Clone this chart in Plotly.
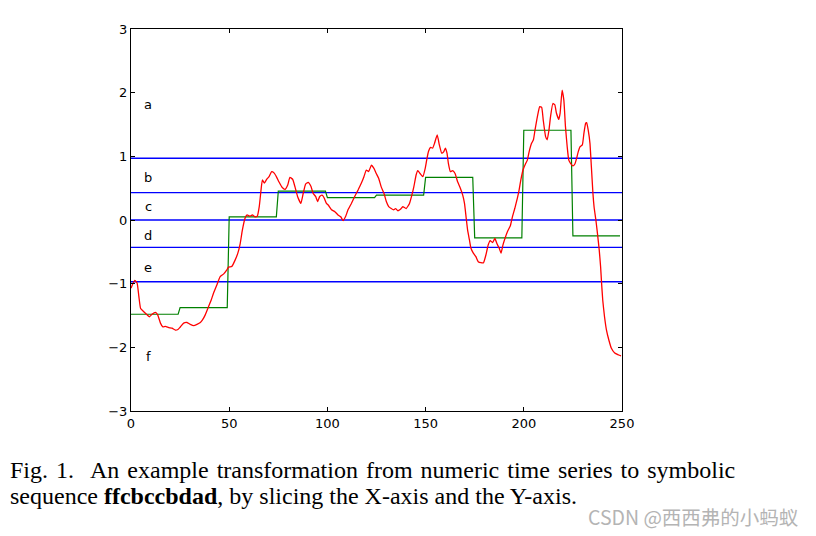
import plotly.graph_objects as go

# ---- data ----
series_x = [0, 1.9, 3.1, 4, 4.9, 6.5, 8.2, 9.4, 10.7, 12.4, 13.6, 15, 16.2, 17.5, 19.2, 20.9, 22.6, 23.9,
            25.1, 26.8, 28.5, 30.2, 31.9, 33.6, 35.3, 36.4, 37.8, 39.5, 40.8, 42, 43.7, 45.4, 47.1, 48.8,
            49.6, 51.3, 53, 54.4, 55.6, 56.7, 58.1, 59.1, 60.6, 61.8, 63.2, 64.3, 65.3, 66.2, 66.9, 67.9,
            69.1, 70.3, 71.6, 72.8, 74.2, 75.3, 77, 78.4, 79.8, 80.9, 82.3, 83.5, 84.8, 86.5, 87.7, 88.9,
            90.2, 91.6, 92.7, 94, 95, 96.1, 97.3, 98.3, 99.5, 100.4, 102.1, 103.8, 105.4, 106.8, 108,
            109.2, 110.5, 112.2, 113.9, 115.6, 117.3, 118.6, 119.8, 121, 122.4, 123.7, 124.9, 126.1,
            127.4, 128.8, 130, 131.2, 132.5, 133.7, 134.7, 135.9, 137.2, 138.4, 140.1, 141.8, 143, 144,
            145.2, 146, 147.2, 148.6, 149.8, 150.6, 151.5, 152.5, 153.6, 154.5, 155.9, 157, 158.2, 159.2,
            160.1, 160.9, 161.6, 162.6, 163.8, 165, 166.3, 167.7, 168.9, 169.8, 170.6, 171.4, 172.3,
            173.1, 174.3, 175.6, 176.8, 178.2, 179.5, 180.7, 181.9, 182.9, 184.1, 185.3, 186.3, 187.5,
            188.4, 189.4, 190.4, 191.7, 193.1, 194.2, 195.4, 196.7, 197.6, 198.5, 199.6, 201, 201.8,
            202.7, 203.9, 204.9, 205.7, 206.9, 208.1, 209.1, 209.9, 211.1, 211.9, 212.8, 213.6, 214.8,
            215.8, 216.6, 217.8, 218.5, 219.5, 220.4, 221.2, 222.1, 222.9, 223.8, 225, 226, 226.9, 227.7,
            228.6, 229.8, 230.6, 231.5, 232, 232.8, 233.7, 234.4, 235.2, 235.8, 236.7, 237.5, 238.4,
            239.1, 239.6, 240.2, 241.1, 242.1, 243.3, 244.6, 246.3, 248.3, 249.5]
series_y = [-1.07, -0.95, -0.99, -1.20, -1.39, -1.44, -1.49, -1.52, -1.48, -1.45, -1.49, -1.62, -1.68, -1.67,
            -1.69, -1.70, -1.73, -1.72, -1.68, -1.62, -1.61, -1.64, -1.66, -1.64, -1.61, -1.57, -1.49, -1.36,
            -1.26, -1.15, -1.02, -0.89, -0.85, -0.785, -0.74, -0.73, -0.63, -0.52, -0.37, -0.16, 0.03, 0.08,
            0.06, 0.08, 0.05, 0.06, 0.21, 0.47, 0.63, 0.58, 0.64, 0.68, 0.76, 0.74, 0.67, 0.60, 0.51, 0.48,
            0.55, 0.67, 0.64, 0.52, 0.37, 0.26, 0.42, 0.565, 0.59, 0.53, 0.42, 0.37, 0.29, 0.37, 0.39, 0.35,
            0.26, 0.235, 0.16, 0.13, 0.08, 0.05, -0.01, 0.05, 0.16, 0.26, 0.37, 0.47, 0.58, 0.68, 0.785,
            0.76, 0.86, 0.81, 0.73, 0.655, 0.52, 0.42, 0.29, 0.21, 0.18, 0.16, 0.18, 0.145, 0.17, 0.21,
            0.18, 0.26, 0.39, 0.52, 0.71, 0.775, 0.73, 0.68, 0.81, 0.95, 1.08, 1.14, 1.13, 1.20, 1.335,
            1.18, 1.05, 1.07, 1.13, 1.05, 0.89, 0.76, 0.775, 0.73, 0.60, 0.50, 0.39, 0.26, 0.05, -0.16,
            -0.31, -0.445, -0.52, -0.575, -0.655, -0.67, -0.67, -0.55, -0.39, -0.325, -0.355, -0.29,
            -0.37, -0.445, -0.52, -0.39, -0.29, -0.18, -0.095, 0.05, 0.18, 0.34, 0.47, 0.63, 0.785, 0.89,
            0.94, 1.07, 1.20, 1.26, 1.41, 1.62, 1.78, 1.77, 1.57, 1.31, 1.26, 1.41, 1.62, 1.83, 1.81, 1.68,
            1.58, 1.68, 2.04, 1.88, 1.47, 1.15, 0.94, 0.89, 0.85, 0.88, 0.97, 1.07, 1.15, 1.18, 1.36, 1.52,
            1.53, 1.41, 1.20, 0.84, 0.42, 0.2, 0.0, -0.21, -0.47, -0.73, -0.99, -1.26, -1.52, -1.73,
            -1.885, -2.015, -2.09, -2.12, -2.135]

segment_starts = [0, 25, 50, 75, 100, 125, 150, 175, 200, 225]
segment_means = [-1.48, -1.376, 0.05, 0.455, 0.35, 0.39, 0.67, -0.28, 1.41, -0.25]
segment_length = 25

breakpoints = [-0.97, -0.43, 0.0, 0.43, 0.97]

symbols = ["a", "b", "c", "d", "e", "f"]
symbol_y = [1.82, 0.67, 0.21, -0.24, -0.74, -2.14]
symbol_x = 8.8

x_ticks = [0, 50, 100, 150, 200, 250]
y_ticks = [-3, -2, -1, 0, 1, 2, 3]

caption_1_words = ["Fig.", "1.", "", "An", "example", "transformation", "from", "numeric", "time",
                   "series", "to", "symbolic"]
caption_2 = "sequence <b>ffcbccbdad</b>, by slicing the X-axis and the Y-axis."
watermark = "CSDN @西西弗的小蚂蚁"

# ---- figure ----
# the page body has an 8px margin, so every target pixel is shifted by -8
OFF = 8
W, H = 816 - OFF, 536 - OFF
pl, pr = 130.5 - OFF, 622.5 - OFF
plot_top, plot_bottom = 29 - OFF, 411 - OFF

fig = go.Figure()

for b in breakpoints:
    fig.add_trace(go.Scatter(x=[0, 250], y=[b, b], mode="lines",
                             line=dict(color="#0000ff", width=1.3), hoverinfo="skip"))

# PAA step: each segment value held over its 25 points
gx, gy = [], []
for s, v in zip(segment_starts, segment_means):
    gx += [s, s + segment_length - 1]
    gy += [v, v]
fig.add_trace(go.Scatter(x=gx, y=gy, mode="lines", line=dict(color="#008000", width=1.2)))

fig.add_trace(go.Scatter(x=series_x, y=series_y, mode="lines",
                         line=dict(color="#ff0000", width=1.3, shape="spline", smoothing=0.4)))

for s, yv in zip(symbols, symbol_y):
    fig.add_annotation(x=symbol_x, y=yv, text=s, showarrow=False, xanchor="center", yanchor="middle",
                       font=dict(family="DejaVu Sans", size=13, color="black"))

ph = plot_bottom - plot_top
pw = pr - pl


def paper_y(py):
    return (plot_bottom - (py - OFF)) / ph


def paper_x(px):
    return ((px - OFF) - pl) / pw


gap = " \u200a"
caption_1 = gap.join(caption_1_words)
fig.add_annotation(xref="paper", yref="paper", x=paper_x(8), y=paper_y(470), text=caption_1,
                   showarrow=False, xanchor="left", yanchor="middle", borderpad=0,
                   font=dict(family="Liberation Serif", size=24, color="black"))
fig.add_annotation(xref="paper", yref="paper", x=paper_x(8), y=paper_y(496), text=caption_2,
                   showarrow=False, xanchor="left", yanchor="middle", borderpad=0,
                   font=dict(family="Liberation Serif", size=24, color="black"))
fig.add_annotation(xref="paper", yref="paper", x=paper_x(801), y=paper_y(516), text=watermark,
                   showarrow=False, xanchor="right", yanchor="middle",
                   font=dict(family="Noto Sans CJK SC", size=19.5, color="#b4b4b4"))

axis_common = dict(showgrid=False, zeroline=False, showline=True, linecolor="black", linewidth=1,
                   mirror="allticks", ticks="inside", ticklen=4, tickcolor="black", tickwidth=1,
                   tickfont=dict(family="DejaVu Sans", size=13, color="black"))

fig.update_layout(
    width=W, height=H,
    margin=dict(l=pl, r=W - pr, t=plot_top, b=H - plot_bottom),
    paper_bgcolor="white", plot_bgcolor="white",
    showlegend=False,
    xaxis=dict(range=[0, 250], tickvals=x_ticks, **axis_common),
    yaxis=dict(range=[-3, 3], tickvals=y_ticks, **axis_common),
)

fig.write_html("out.html")
